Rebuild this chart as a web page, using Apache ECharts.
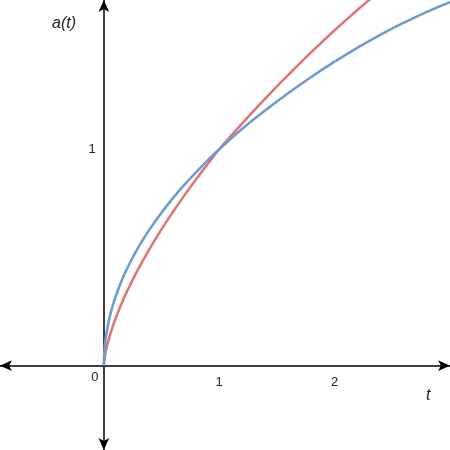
<!DOCTYPE html>
<html><head><meta charset="utf-8">
<script src="https://cdn.jsdelivr.net/npm/echarts@6/dist/echarts.min.js"></script>
<style>html,body{margin:0;padding:0;background:#fff}#c{width:450px;height:450px}</style>
</head><body><div id="c"></div>
<script>
const tValues = [0,0.01,0.03,0.06,0.1,0.15,0.2,0.3,0.4,0.5,0.6,0.7,0.8,0.9,1,1.2,1.4,1.6,1.8,2,2.2,2.4,2.6,2.8,3.0];
const blueValues = [0,0.1,0.17,0.245,0.316,0.387,0.447,0.548,0.632,0.707,0.775,0.837,0.894,0.949,1,1.095,1.18,1.26,1.335,1.405,1.47,1.53,1.585,1.635,1.68];
const redValues = [0,0.046,0.097,0.153,0.215,0.282,0.342,0.448,0.543,0.630,0.711,0.788,0.862,0.932,1,1.12,1.235,1.345,1.45,1.55,1.645,1.735,1.82,1.9,1.98];
const xTickLabels = ['1','2'];
const yTickLabels = ['1'];
const font = 'Arial, Liberation Sans';
const chart = echarts.init(document.getElementById('c'));
chart.setOption({
  animation:false,
  grid:{left:0,right:0,top:0,bottom:0,containLabel:false,outerBoundsMode:'none'},
  xAxis:{type:'value',min:-0.9,max:3.0,
    axisLine:{onZero:true,symbol:['arrow','arrow'],symbolSize:[8,12],lineStyle:{color:'#000',width:1.5}},
    axisTick:{show:false},splitLine:{show:false},axisLabel:{show:false}},
  yAxis:{type:'value',min:-0.39,max:1.69,
    axisLine:{onZero:true,symbol:['arrow','arrow'],symbolSize:[8,12],lineStyle:{color:'#000',width:1.5}},
    axisTick:{show:false},splitLine:{show:false},axisLabel:{show:false}},
  series:[
    {type:'line',data:tValues.map((t,i)=>[t,redValues[i]]),smooth:true,showSymbol:false,clip:true,lineStyle:{color:'#de7474',width:2.5}},
    {type:'line',data:tValues.map((t,i)=>[t,blueValues[i]]),smooth:true,showSymbol:false,clip:true,lineStyle:{color:'#6a9bd0',width:2.5}}
  ]
});
const g = [];
xTickLabels.forEach(l=>{const p=chart.convertToPixel({gridIndex:0},[Number(l),0]);
  g.push({type:'text',x:p[0],y:p[1]+10,style:{text:l,fontSize:13,fill:'#222',fontFamily:font,align:'center'}});});
yTickLabels.forEach(l=>{const p=chart.convertToPixel({gridIndex:0},[0,Number(l)]);
  g.push({type:'text',x:p[0]-8,y:p[1],style:{text:l,fontSize:13,fill:'#222',fontFamily:font,align:'right',verticalAlign:'middle'}});});
const o=chart.convertToPixel({gridIndex:0},[0,0]);
g.push({type:'text',x:o[0]-9,y:o[1]+5,style:{text:'0',fontSize:13,fill:'#222',fontFamily:font,align:'center'}});
g.push({type:'text',x:52,y:16,style:{text:'a(t)',fontSize:16,fontStyle:'italic',fill:'#222',fontFamily:font}});
g.push({type:'text',x:426,y:388,style:{text:'t',fontSize:16,fontStyle:'italic',fill:'#222',fontFamily:font}});
chart.setOption({graphic:g});
</script></body></html>
